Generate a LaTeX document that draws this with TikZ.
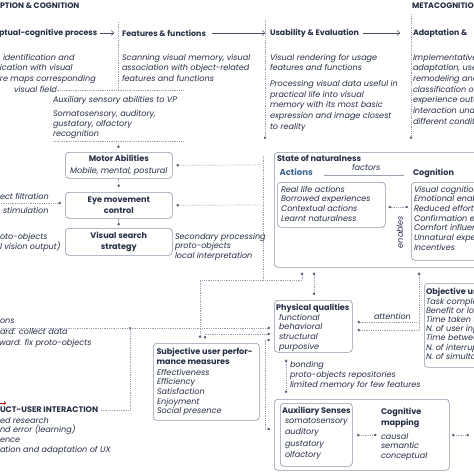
\documentclass[tikz,border=0pt]{standalone}
\usepackage{fontspec}
\setmainfont{Poppins}
\usetikzlibrary{arrows.meta}
\definecolor{ink}{HTML}{262F45}
\definecolor{lnc}{HTML}{9AA2B2}
\definecolor{bxc}{HTML}{8C95A9}
\definecolor{actc}{HTML}{3A6591}
\tikzset{
  txt/.style={inner sep=0pt, outer sep=0pt, text=ink, align=left, anchor=north west, font=\fontsize{8.1}{#1}\selectfont\itshape},
  txt/.default=9.7,
  bld/.style={inner sep=0pt, outer sep=0pt, text=ink, align=left, anchor=north west, font=\fontsize{8.1}{#1}\selectfont\bfseries},
  bld/.default=10.5,
  hdr/.style={inner sep=0pt, outer sep=0pt, text=ink, anchor=west, font=\fontsize{7.9}{9}\selectfont\bfseries},
  bx/.style={draw=bxc, line width=0.6pt, rounded corners=3.5pt, inner sep=0pt, anchor=north west},
  dl/.style={draw=lnc, line width=0.7pt, dash pattern=on 0.7pt off 1.1pt},
  dt/.style={-{Circle[length=2.5pt, color=ink!75]}, shorten >=#1},
  dt/.default=0pt,
  dd/.style={{Circle[length=2.5pt, color=ink!75]}-{Circle[length=2.5pt, color=ink!75]}, shorten <=#1, shorten >=#1},
  dd/.default=4pt,
  harr/.style={draw=ink!85, line width=0.6pt, -{Straight Barb[length=2.2pt, width=5pt]}},
}
\begin{document}
\begin{tikzpicture}[x=1pt, y=-1pt]
\useasboundingbox (0,0) rectangle (474,474);
\clip (0,0) rectangle (474,474);
\fill[white] (0,0) rectangle (474,474);

% ---------- top headings
\node[hdr] (perc) at (0,6) {PTION \& COGNITION};
\node[hdr] (meta) at (412,6) {METACOGNITION};
\node[hdr] (h1) at (-1,33) {ptual-cognitive process};
\node[hdr] (h2) at (122,33) {Features \& functions};
\node[hdr] (h3) at (270,33) {Usability \& Evaluation};
\node[hdr] (h4) at (413,33) {Adaptation \&};
\draw[harr] ([xshift=3pt]h1.east) -- ([xshift=-8pt]h2.west);
\draw[harr] ([xshift=6pt]h2.east) -- ([xshift=-5pt]h3.west);
\draw[harr] ([xshift=4pt]h3.east) -- ([xshift=-13pt]h4.west);

% separators
\coordinate (s1t) at (118,22); \coordinate (s1b) at (118,90);
\coordinate (s2t) at (265,20); \coordinate (s2b) at (265,139);
\coordinate (s3t) at (411,14); \coordinate (s3b) at (411,139);
\draw[dl] (s1t) -- (s1b);
\draw[dl,dt] (s2t) -- (s2b);
\draw[dl,dt] (s3t) -- (s3b);

% column texts
\node[txt=10.7] (c1) at (0,54) {\hspace{3pt}identification and\\ication with visual\\re maps corresponding\\\hspace{14pt}visual field};
\node[txt=10.7] (c2) at (122,54) {Scanning visual memory, visual\\association with object-related\\features and functions};
\node[txt=10.7] (c3) at (270,54) {Visual rendering for usage\\features and functions};
\node[txt=10.7] (c3b) at (270,80.2) {Processing visual data useful in\\practical life into visual\\memory with its most basic\\expression and image closest\\to reality};
\node[txt=10.7] (c4) at (413,54) {Implementative\\adaptation, use\\remodeling and\\classification of\\experience outcome\\interaction under\\different conditions};

% auxiliary sensory abilities
\coordinate (a1) at (53,90); \coordinate (a2) at (183,90);
\coordinate (a3) at (53,141); \coordinate (a4) at (183,141);
\coordinate (auxb) at (118,141);
\draw[dl] (a1) -- (a2);
\draw[dl] (a3) -- (a4);
\node[txt] (auxt) at (53,96) {Auxiliary sensory abilities to VP};
\node[txt=10] (auxl) at (53,110.2) {Somatosensory, auditory,\\gustatory, olfactory\\recognition};

% left boxes
\node[bx, minimum width=107pt, minimum height=26pt, align=center, text=ink] (motor) at (65,152)
  {\fontsize{8.1}{10}\selectfont\bfseries Motor Abilities\\[-0.8pt]\fontsize{8.1}{10}\selectfont\itshape Mobile, mental, postural};
\node[bx, minimum width=107pt, minimum height=26pt, align=center, text=ink, font=\fontsize{8.1}{10.3}\selectfont\bfseries] (eye) at (65,192)
  {Eye movement\\control};
\node[bx, minimum width=107pt, minimum height=27pt, align=center, text=ink, font=\fontsize{8.1}{10.3}\selectfont\bfseries] (vss) at (65,228)
  {Visual search\\strategy};
\draw[dl,dt=4pt] (auxb) -- (motor.north);
\draw[dl,dt=5pt] (motor.south) -- (eye.north);
\draw[dl,dt=2.5pt] (eye.south) -- (vss.north);

\coordinate (v1) at (263,165); \coordinate (v2) at (263,205);
\coordinate (vt) at (263,156); \coordinate (vb) at (263,280);
\draw[dl,dt=4pt] (v1) -- (motor.east);
\draw[dl,dt=4pt] (v2) -- (eye.east);
\draw[dl] (vt) -- (vb);

% left fragments
\node[txt] (lf1) at (0,193) {ect filtration};
\node[txt] (lf2) at (3,207.2) {stimulation};
\coordinate (lfs) at (-1,203);
\draw[dl,dt=4pt] (lfs) -- (lfs -| eye.west);
\node[txt=9.5] (po) at (0,233) {oto-objects\\l vision output)};
\node[txt=9.5] (sec) at (175,233) {Secondary processing\\proto-objects\\local interpretation};

% state of naturalness
\node[bx, minimum width=222pt, minimum height=115pt] (state) at (274,152) {};
\node[bld] (stt) at (277,155.6) {State of naturalness};
\node[bld, text=actc, font=\fontsize{8.5}{10}\selectfont\bfseries] (act) at (279.5,168.2) {Actions};
\node[txt] (fac) at (352,164.6) {factors};
\coordinate (fl1) at (324,175); \coordinate (fl2) at (404,175);
\draw[draw=lnc, line width=0.5pt] (fl1) -- (fl2);
\node[bld] (cogt) at (413,169.4) {Cognition};
\node[bx, minimum width=108pt, minimum height=45pt] (actb) at (277,182) {};
\node[txt] (acti) at (281,186) {Real life actions\\Borrowed experiences\\Contextual actions\\Learnt naturalness};
\node[bx, minimum width=80pt, minimum height=78pt] (cogb) at (411,182) {};
\node[txt] (cogi) at (414,186) {Visual cognition\\Emotional enablers\\Reduced effort\\Confirmation expectation\\Comfort influence\\Unnatural experience\\Incentives};
\coordinate (y207) at (0,207);
\draw[dl,dd=3pt] (actb.east |- y207) -- (cogb.west |- y207);
\node[txt, anchor=center, rotate=90] (enb) at (400,232) {enables};

% physical qualities
\node[bx, minimum width=78pt, minimum height=52pt] (phys) at (274,300) {};
\node[bld] (pht) at (276,303.6) {Physical qualities};
\node[txt] (phi) at (279,314) {functional\\behavioral\\structural\\purposive};

% objective
\node[bx, minimum width=72pt, minimum height=84pt] (obj) at (424,283) {};
\node[bld] (objt) at (426,288.1) {Objective user performance};
\node[txt=9.2] (obji) at (426,298) {Task completion\\Benefit or loss\\Time taken to complete\\N. of user inputs\\Time between inputs\\N. of interruptions\\N. of simultaneous tasks};

% connectors around state / physical / objective
\coordinate (x314) at (314,0); \coordinate (x419) at (419,0);
\coordinate (y330) at (0,330); \coordinate (y322) at (0,322);
\draw[dl,dd=5pt] (state.south -| x314) -- (phys.north -| x314);
\draw[dl,dd=5pt] (state.south -| x419) -- (x419 |- y330) -- (phys.east |- y330);
\coordinate (att) at (417,322);
\draw[dl,{Circle[length=2.5pt, color=ink!75]}-, shorten <=5pt] (phys.east |- y322) -- (att);
\node[txt] (attn) at (374,313.8) {attention};

% subjective
\node[bx, minimum width=106pt, minimum height=77pt] (subj) at (153,343) {};
\node[bld=10.8] (subt) at (156.5,347.6) {Subjective user perfor-\\mance measures};
\node[txt] (subi) at (157,369) {Effectiveness\\Efficiency\\Satisfaction\\Enjoyment\\Social presence};

\coordinate (x302) at (302,0); \coordinate (x200) at (200,0); \coordinate (y280) at (0,280);
\draw[dl,dd=5pt] (state.south -| x302) -- (x302 |- y280) -- (x200 |- y280) -- (subj.north -| x200);
\coordinate (x205) at (205,0); \coordinate (y334) at (0,334);
\draw[dl,{Circle[length=2.5pt, color=ink!75]}-{Circle[length=2.5pt, color=ink!75]}, shorten <=4.5pt, shorten >=4pt] (subj.north -| x205) -- (x205 |- y334) -- (phys.west |- y334);

% left frame
\coordinate (f0) at (-1,328); \coordinate (f1) at (130,328);
\coordinate (f2) at (130,410); \coordinate (f3) at (101,410);
\draw[dl] (f3) -- (f2) -- (f1) -- (f0);
\draw[dl,dt=4pt] (f1) -- (phys.west |- f1);
\fill[ink!75] (f1) circle (1.2pt);
\node[txt] (ons) at (0,319) {ons};
\node[txt] (ard) at (0,329) {ard: collect data};
\node[txt] (ward) at (-1,339) {ward: fix proto-objects};

% product-user interaction
\coordinate (r1) at (-4,403); \coordinate (r2) at (6,403);
\draw[draw=red!75!black, line width=0.6pt, -{Straight Barb[length=1.5pt, width=3.5pt]}] (r1) -- (r2);
\node[bld] (pui) at (0,406.6) {UCT-USER INTERACTION};
\node[txt] (puii) at (0,417) {ed research\\nd error (learning)\\ence\\ation and adaptation of UX};

% bonding
\coordinate (x286) at (286,0);
\node[bx, minimum width=175pt, minimum height=71pt] (big) at (274,399) {};
\draw[dl,{Circle[length=2.5pt, color=ink!75]}-{Circle[length=2.5pt, color=ink!75]}, shorten <=7pt, shorten >=6pt] (phys.south -| x286) -- (big.north -| x286);
\node[txt=10] (bond) at (290,361) {bonding\\proto-objects repositories\\limited memory for few features};

% bracket from physical to big box
\coordinate (x265) at (265,0); \coordinate (y340) at (0,340); \coordinate (y429) at (0,429);
\draw[dl,dd=4pt] (phys.west |- y340) -- (x265 |- y340) -- (x265 |- y429) -- (big.west |- y429);

% auxiliary senses and cognitive mapping
\node[bx, minimum width=72pt, minimum height=63pt] (aux) at (280,403) {};
\node[bld] (auxs) at (282,406.6) {Auxiliary Senses};
\node[txt=11.3] (auxi) at (285,418) {somatosensory\\auditory\\gustatory\\olfactory};
\node[bld=11] (cmt) at (381,407.6) {Cognitive\\mapping};
\node[txt=10] (cmi) at (381,433) {causal\\semantic\\conceptual};
\coordinate (y435) at (0,435); \coordinate (rend) at (471,435);
\draw[dl,dd=4.5pt] (aux.east |- y435) -- (cmi.west |- y435);
\draw[dl,{Circle[length=2.5pt, color=ink!75]}-{Circle[length=2.5pt, color=ink!75]}, shorten <=2.5pt, shorten >=2pt] (big.east |- y435) -- (rend);
\end{tikzpicture}
\end{document}
